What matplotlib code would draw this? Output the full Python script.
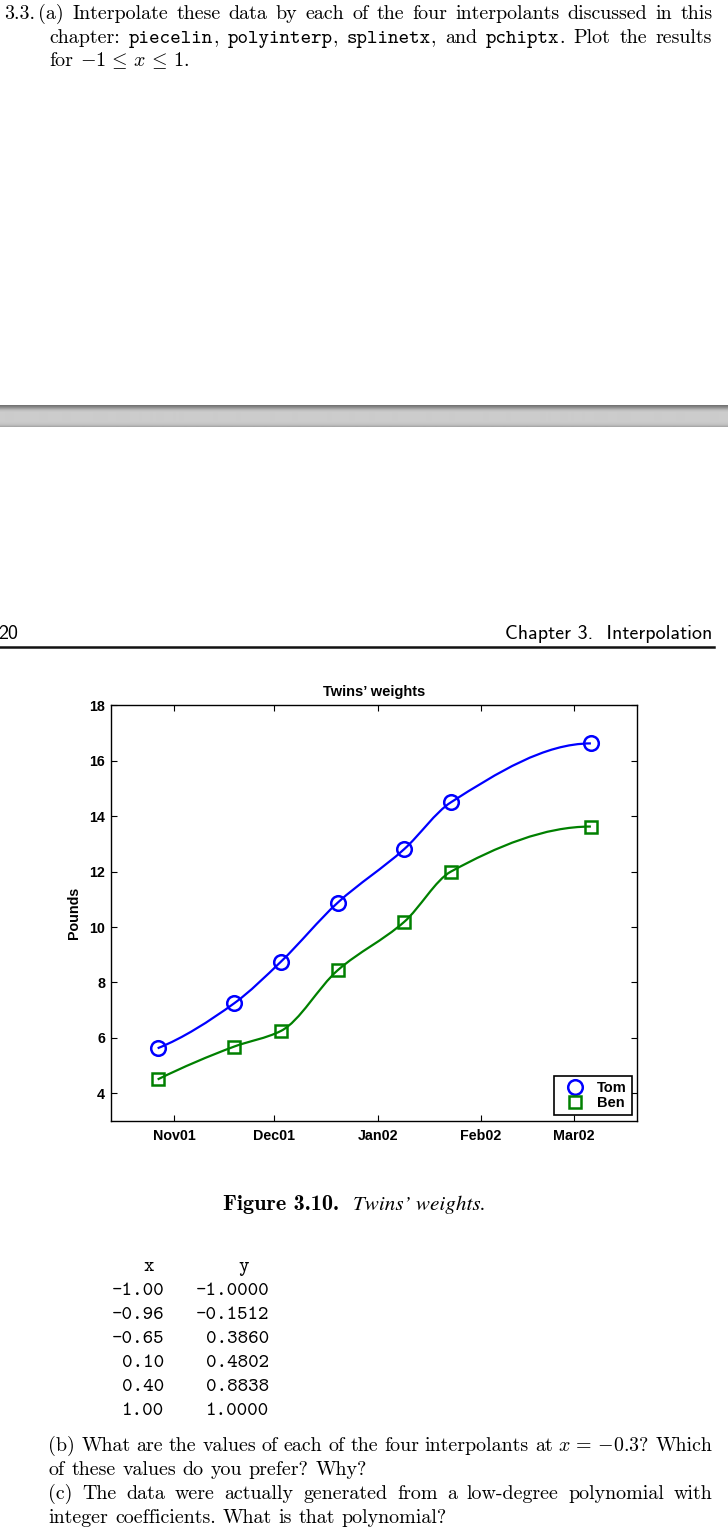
import numpy as np
import matplotlib
matplotlib.use('Agg')
import matplotlib.pyplot as plt
import matplotlib.dates as mdates
import matplotlib.transforms as mtransforms
from matplotlib.path import Path
from matplotlib.patches import PathPatch
from datetime import datetime

# twins' weights (lbs)
dates = ['2001-10-27', '2001-11-19', '2001-12-03', '2001-12-20',
         '2002-01-09', '2002-01-23', '2002-03-06']
tom = [5.625, 7.25, 8.75, 10.875, 12.8125, 14.5, 16.625]
ben = [4.5, 5.6875, 6.25, 8.4375, 10.1875, 12.0, 13.625]
month_ticks = ['2001-11-01', '2001-12-01', '2002-01-01', '2002-02-01', '2002-03-01']
y_ticks = [4, 6, 8, 10, 12, 14, 16, 18]

# exercise table
tab_x = ['-1.00', '-0.96', '-0.65', '0.10', '0.40', '1.00']
tab_y = ['-1.0000', '-0.1512', '0.3860', '0.4802', '0.8838', '1.0000']

plt.rcParams['font.family'] = 'Liberation Sans'
plt.rcParams['mathtext.fontset'] = 'cm'

W, H = 728, 1534
fig = plt.figure(figsize=(W / 100, H / 100), dpi=100)
PX = mtransforms.Affine2D().scale(1 / W, -1 / H).translate(0, 1) + fig.transFigure
R = fig.canvas.get_renderer()

BODY = 14.4
RM, TT = 'cmr10', 'cmtt10'


def words(s, fam=RM):
    return [[(w, fam)] for w in s.split()]


def put_line(toks, x0, base, x1=None, size=BODY):
    placed = []
    total = 0
    for word in toks:
        arts = [fig.text(0, base, s, family=f, fontsize=size, va='baseline',
                         transform=PX) for s, f in word]
        ws = [a.get_window_extent(R).width for a in arts]
        placed.append((arts, ws))
        total += sum(ws)
    gap = 6.7 if x1 is None else (x1 - x0 - total) / (len(toks) - 1)
    x = x0
    for arts, ws in placed:
        for a, w in zip(arts, ws):
            a.set_x(x)
            x += w
        x += gap


# exercise text, top
fig.text(35, 18.7, '3.3.', family=RM, fontsize=BODY, va='baseline', ha='right', transform=PX)
put_line(words('(a) Interpolate these data by each of the four interpolants discussed in this'),
         38.5, 18.7, 712.3)
put_line([[('chapter:', RM)], [('piecelin', TT), (',', RM)], [('polyinterp', TT), (',', RM)],
          [('splinetx', TT), (',', RM)], [('and', RM)], [('pchiptx', TT), ('.', RM)]]
         + words('Plot the results'), 49.3, 42.7, 712.3)
put_line([[('for', RM)], [(r'$-1 \,\leq\, x \,\leq\, 1$.', RM)]], 49.3, 66.5)

# gray band between pages
band = fig.add_axes([0, 1 - 427 / H, 1, 22 / H])
band.axis('off')
shade = [0.45, 0.50, 0.56, 0.63, 0.70, 0.75, 0.78, 0.80, 0.80, 0.80, 0.80,
         0.80, 0.80, 0.80, 0.80, 0.80, 0.80, 0.79, 0.78, 0.76, 0.72, 0.66]
band.imshow(np.array(shade)[:, None], cmap='gray', vmin=0, vmax=1,
            aspect='auto', interpolation='bilinear')

# running head
fig.text(-2, 639, '20', family='cmss10', fontsize=BODY, va='baseline', transform=PX)
fig.text(712.3, 639, 'Chapter 3.  Interpolation', family='cmss10', fontsize=BODY,
         va='baseline', ha='right', transform=PX)
fig.add_artist(plt.Line2D([0, 714], [647.3, 647.3], transform=PX, color='#111111', lw=1.8))

# the plot
ax = fig.add_axes([110.7 / W, 1 - 1121 / H, 526.6 / W, 415.7 / H])
d = [datetime.strptime(s, '%Y-%m-%d') for s in dates]
xn = mdates.date2num(d)


def pchip_path(x, y):
    x = np.asarray(x, float)
    y = np.asarray(y, float)
    h = np.diff(x)
    dl = np.diff(y) / h
    n = len(x)
    s = np.zeros(n)
    for k in range(1, n - 1):
        if dl[k - 1] * dl[k] > 0:
            w1 = 2 * h[k] + h[k - 1]
            w2 = h[k] + 2 * h[k - 1]
            s[k] = (w1 + w2) / (w1 / dl[k - 1] + w2 / dl[k])

    def end(h0, h1, d0, d1):
        e = ((2 * h0 + h1) * d0 - h0 * d1) / (h0 + h1)
        if np.sign(e) != np.sign(d0):
            e = 0
        elif np.sign(d0) != np.sign(d1) and abs(e) > abs(3 * d0):
            e = 3 * d0
        return e

    s[0] = end(h[0], h[1], dl[0], dl[1])
    s[-1] = end(h[-1], h[-2], dl[-1], dl[-2])
    verts = [(x[0], y[0])]
    codes = [Path.MOVETO]
    for k in range(n - 1):
        verts += [(x[k] + h[k] / 3, y[k] + h[k] * s[k] / 3),
                  (x[k + 1] - h[k] / 3, y[k + 1] - h[k] * s[k + 1] / 3),
                  (x[k + 1], y[k + 1])]
        codes += [Path.CURVE4] * 3
    return Path(verts, codes)


blue, green = '#0000ff', '#008000'
ax.add_patch(PathPatch(pchip_path(xn, tom), fill=False, edgecolor=blue, lw=1.6))
ax.add_patch(PathPatch(pchip_path(xn, ben), fill=False, edgecolor=green, lw=1.6))
ax.plot(d, tom, 'o', ls='none', mfc='none', mec=blue, mew=1.8, ms=10.5, label='Tom')
ax.plot(d, ben, 's', ls='none', mfc='none', mec=green, mew=1.8, ms=8.0, label='Ben')

ax.set_xlim(datetime(2001, 10, 12, 22), datetime(2002, 3, 19, 22))
ax.set_ylim(3, 18)
ax.set_xticks([datetime.strptime(s, '%Y-%m-%d') for s in month_ticks])
ax.xaxis.set_major_formatter(mdates.DateFormatter('%b%y'))
ax.set_yticks(y_ticks)
ax.tick_params(direction='in', top=True, right=True, length=4.5, width=0.8,
               labelsize=10.3, pad=4)
ax.tick_params(axis='x', pad=6)
for lab in ax.get_xticklabels() + ax.get_yticklabels():
    lab.set_fontweight('bold')
for sp in ax.spines.values():
    sp.set_linewidth(1.0)
ax.set_title('Twins\u2019 weights', fontsize=10.5, fontweight='bold', pad=7)
ax.set_ylabel('Pounds', fontsize=10.3, fontweight='bold', labelpad=6)
ax.legend(loc='lower right', bbox_to_anchor=(632 / W, 1 - 1115 / H),
          bbox_transform=fig.transFigure, borderaxespad=0, fancybox=False,
          edgecolor='black', framealpha=1, prop={'weight': 'bold', 'size': 10.5},
          labelspacing=0.05, borderpad=0.35, handlelength=2.2, handletextpad=0.4)
ax.get_legend().get_frame().set_linewidth(1.2)

# caption
fig.text(222.7, 1210, 'Figure 3.10.', family='cmb10', fontsize=16.0, va='baseline', transform=PX)
fig.text(353, 1210, 'Twins\u2019 weights.', family='STIXGeneral', style='italic',
         fontsize=15.2, va='baseline', transform=PX)

# data table
fig.text(149, 1271, 'x', family=TT, fontsize=BODY, va='baseline', ha='center', transform=PX)
fig.text(244, 1271, 'y', family=TT, fontsize=BODY, va='baseline', ha='center', transform=PX)
for i, (a, b) in enumerate(zip(tab_x, tab_y)):
    yb = 1295 + 24 * i
    fig.text(164.3, yb, a, family=TT, fontsize=BODY, va='baseline', ha='right', transform=PX)
    fig.text(269.3, yb, b, family=TT, fontsize=BODY, va='baseline', ha='right', transform=PX)

# parts (b) and (c)
put_line(words('(b) What are the values of each of the four interpolants at')
         + [[(r'$x\,=\,{-}0.3$?', RM)]] + words('Which'), 48.5, 1451, 712.3)
put_line(words('of these values do you prefer? Why?'), 48.5, 1475)
put_line(words('(c) The data were actually generated from a low-degree polynomial with'),
         48.5, 1499, 712.3)
put_line(words('integer coefficients. What is that polynomial?'), 48.5, 1523)

fig.savefig('out.png', dpi=100)
